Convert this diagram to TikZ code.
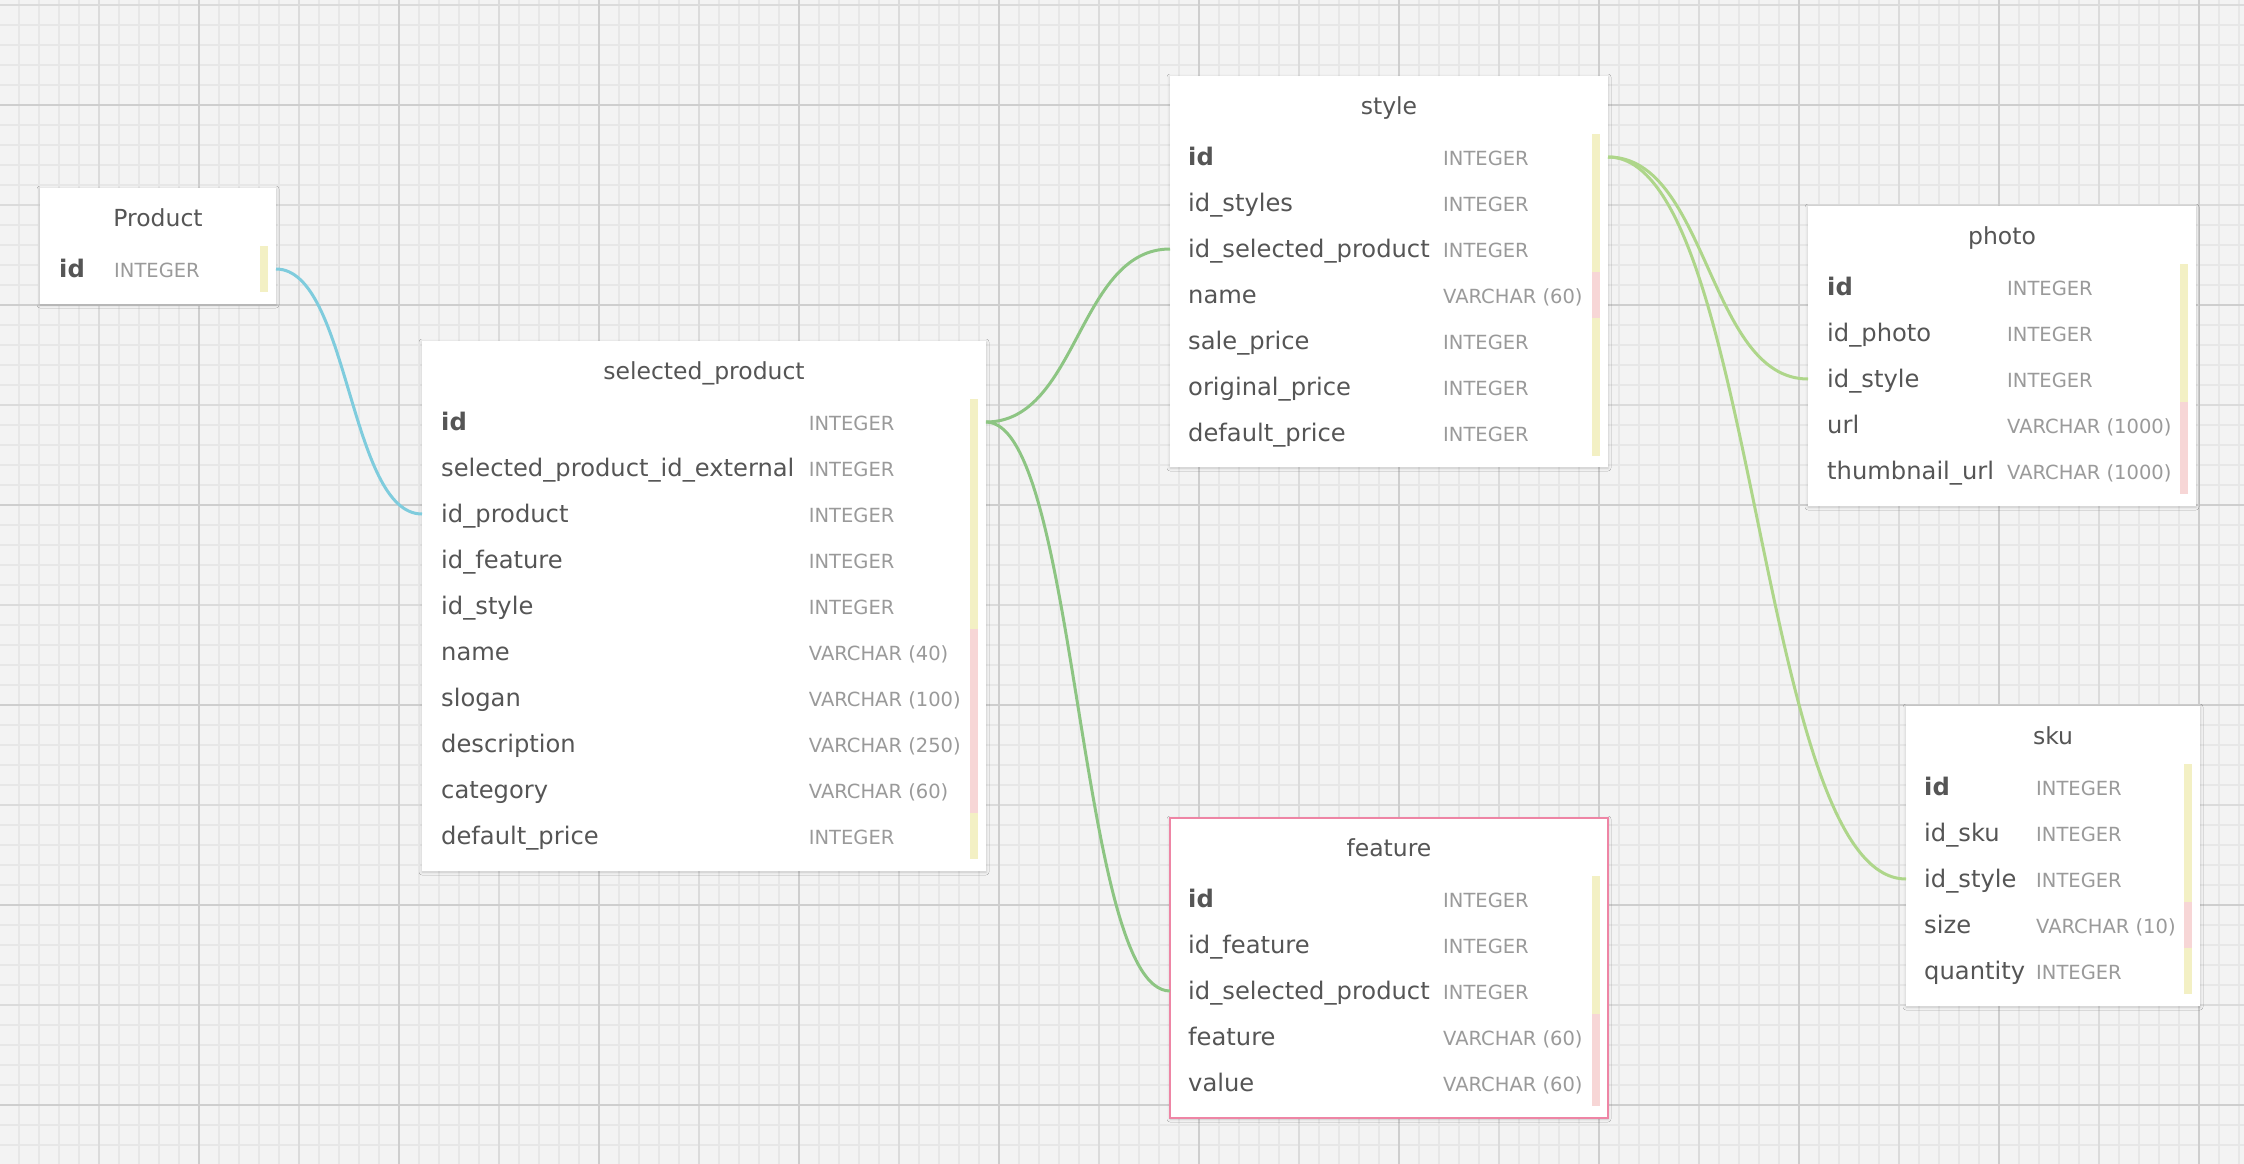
\documentclass[tikz,border=0pt]{standalone}
\usepackage{fontspec}
\setmainfont{DejaVu Sans}
\usetikzlibrary{calc,shadows.blur}
\definecolor{bgc}{HTML}{F3F3F3}
\definecolor{gminc}{HTML}{E7E7E7}
\definecolor{gmedc}{HTML}{DBDBDB}
\definecolor{gmajc}{HTML}{CECECE}
\definecolor{fieldc}{HTML}{555555}
\definecolor{typec}{HTML}{9A9A9A}
\definecolor{colyel}{HTML}{F3F0C4}
\definecolor{colred}{HTML}{F7D6D6}
\definecolor{bluec}{HTML}{7FCCDD}
\definecolor{greenc}{HTML}{8DC583}
\definecolor{lgreenc}{HTML}{AED68A}
\definecolor{pinkc}{HTML}{EE85A5}
\tikzset{
  x=1pt, y=-1pt,
  gmin/.style={draw=gminc, line width=1.6pt},
  gmed/.style={draw=gmedc, line width=2pt},
  gmaj/.style={draw=gmajc, line width=2pt},
  tbl/.style={fill=white, draw=none, inner sep=0pt, outer sep=0pt,
    blur shadow={shadow xshift=0pt, shadow yshift=-1pt, shadow blur radius=3pt, shadow opacity=18}},
  ttl/.style={anchor=base, inner sep=0pt, text=fieldc, font=\fontsize{23.5}{28}\selectfont},
  fld/.style={anchor=base west, inner sep=0pt, text=fieldc, font=\fontsize{24.2}{29}\selectfont},
  typ/.style={anchor=base west, inner sep=0pt, text=typec, font=\fontsize{19.5}{23}\selectfont},
  conn/.style={line width=3pt},
}
\newcommand\tblrows[6]{%
  \foreach \n/\f/\t/\c [count=\i from 0] in {#6}{%
    \pgfmathsetmacro\yb{#5+46*\i}%
    \fill[fill=col\c] (#4,\yb) rectangle (#4+8,\yb+46);
    \node[fld] (#1-\n-f) at (#2,\yb+31) {\f};
    \node[typ] (#1-\n-t) at (#3,\yb+31) {\t};
    \coordinate (#1-\n) at (#4,\yb+23);
  }%
}
\begin{document}
\begin{tikzpicture}
\fill[bgc] (0,0) rectangle (2244,1164);
\useasboundingbox (0,0) rectangle (2244,1164);
% grid
\foreach \k in {0,...,112} \draw[gmin] ({19+20*\k},0) -- ({19+20*\k},1164);
\foreach \k in {0,...,58} \draw[gmin] (0,{5+20*\k}) -- (2244,{5+20*\k});
\foreach \k in {0,...,21} \draw[gmed] ({99+100*\k},0) -- ({99+100*\k},1164);
\foreach \k in {0,...,11} \draw[gmed] (0,{5+100*\k}) -- (2244,{5+100*\k});
\foreach \k in {0,...,11} \draw[gmaj] ({-1+200*\k},0) -- ({-1+200*\k},1164);
\foreach \k in {0,...,5} \draw[gmaj] (0,{105+200*\k}) -- (2244,{105+200*\k});

% tables
\node[tbl, minimum width=236pt, minimum height=116pt] (product) at (158,246) {};
\node[tbl, minimum width=564pt, minimum height=530pt] (selprod) at (704,606) {};
\node[tbl, minimum width=438pt, minimum height=391pt] (style) at (1389,271.5) {};
\node[tbl, draw=pinkc, line width=2pt, minimum width=438pt, minimum height=300pt] (feature) at (1389,968) {};
\node[tbl, minimum width=388pt, minimum height=300pt] (photo) at (2002,356) {};
\node[tbl, minimum width=294pt, minimum height=300pt] (sku) at (2053,856) {};

\node[ttl] (product-title) at (158,226) {Product};
\node[ttl] (selprod-title) at (704,379) {selected\_product};
\node[ttl] (style-title) at (1389,114) {style};
\node[ttl] (feature-title) at (1389,856) {feature};
\node[ttl] (photo-title) at (2002,244) {photo};
\node[ttl] (sku-title) at (2053,744) {sku};

\tblrows{prod}{59}{114}{260}{246}{id/\textbf{id}/INTEGER/yel}
\tblrows{sp}{441}{808.7}{970}{399}{id/\textbf{id}/INTEGER/yel,
  ext/selected\_product\_id\_external/INTEGER/yel,
  idproduct/id\_product/INTEGER/yel,
  idfeature/id\_feature/INTEGER/yel,
  idstyle/id\_style/INTEGER/yel,
  name/name/VARCHAR (40)/red,
  slogan/slogan/VARCHAR (100)/red,
  desc/description/VARCHAR (250)/red,
  cat/category/VARCHAR (60)/red,
  price/default\_price/INTEGER/yel}
\tblrows{st}{1188}{1443}{1592}{134}{id/\textbf{id}/INTEGER/yel,
  idstyles/id\_styles/INTEGER/yel,
  isp/id\_selected\_product/INTEGER/yel,
  name/name/VARCHAR (60)/red,
  sale/sale\_price/INTEGER/yel,
  orig/original\_price/INTEGER/yel,
  def/default\_price/INTEGER/yel}
\tblrows{ft}{1188}{1443}{1592}{876}{id/\textbf{id}/INTEGER/yel,
  idfeature/id\_feature/INTEGER/yel,
  isp/id\_selected\_product/INTEGER/yel,
  feature/feature/VARCHAR (60)/red,
  value/value/VARCHAR (60)/red}
\tblrows{ph}{1827}{2007}{2180}{264}{id/\textbf{id}/INTEGER/yel,
  idphoto/id\_photo/INTEGER/yel,
  idstyle/id\_style/INTEGER/yel,
  url/url/VARCHAR (1000)/red,
  thumb/thumbnail\_url/VARCHAR (1000)/red}
\tblrows{sk}{1924}{2036}{2184}{764}{id/\textbf{id}/INTEGER/yel,
  idsku/id\_sku/INTEGER/yel,
  idstyle/id\_style/INTEGER/yel,
  size/size/VARCHAR (10)/red,
  qty/quantity/INTEGER/yel}

% connectors
\draw[conn, bluec] (product.east |- prod-id) .. controls +(73,0) and +(-73,0) .. (selprod.west |- sp-idproduct);
\draw[conn, greenc] (selprod.east |- sp-id) .. controls +(92,0) and +(-92,0) .. (style.west |- st-isp);
\draw[conn, greenc] (selprod.east |- sp-id) .. controls +(92,0) and +(-92,0) .. (feature.west |- ft-isp);
\draw[conn, lgreenc] (style.east |- st-id) .. controls +(100,0) and +(-100,0) .. (photo.west |- ph-idstyle);
\draw[conn, lgreenc] (style.east |- st-id) .. controls +(149,0) and +(-149,0) .. (sku.west |- sk-idstyle);
\end{tikzpicture}
\end{document}
